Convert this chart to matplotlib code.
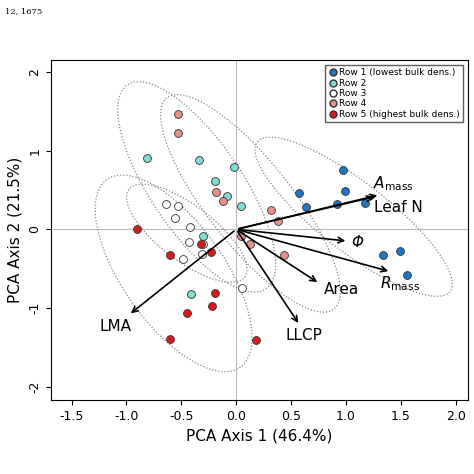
import matplotlib
matplotlib.use("Agg")
import matplotlib.pyplot as plt
from matplotlib.patches import Ellipse
from matplotlib.lines import Line2D

row1_x=[0.97,0.99,0.57,0.64,0.92,1.17,1.34,1.49,1.56]
row1_y=[0.75,0.49,0.46,0.29,0.32,0.33,-0.32,-0.28,-0.58]
row2_x=[-0.81,-0.34,-0.02,-0.19,-0.08,0.04,-0.30,-0.41]
row2_y=[0.91,0.88,0.79,0.61,0.43,0.30,-0.09,-0.82]
row3_x=[-0.64,-0.53,-0.56,-0.42,-0.43,-0.48,-0.30,-0.31,0.05]
row3_y=[0.32,0.30,0.14,0.03,-0.16,-0.38,-0.19,-0.31,-0.74]
row4_x=[-0.53,-0.53,-0.18,-0.12,0.32,0.38,0.04,0.13,0.44]
row4_y=[1.46,1.23,0.47,0.36,0.24,0.10,-0.08,-0.19,-0.33]
row5_x=[-0.90,-0.32,-0.23,-0.60,-0.19,-0.22,-0.45,-0.60,0.18]
row5_y=[0.01,-0.19,-0.29,-0.33,-0.81,-0.97,-1.06,-1.39,-1.41]
labels=["Row 1 (lowest bulk dens.)","Row 2","Row 3","Row 4","Row 5 (highest bulk dens.)"]
colors=["#1f74c4","#7fdcd2","#ffffff","#e8918c","#d81a1c"]

vec_names=["A","Leaf N","\u03a6","R","Area","LLCP","LMA"]
vec_x=[1.31,1.28,1.02,1.41,0.76,0.58,-0.98]
vec_y=[0.44,0.42,-0.15,-0.54,-0.69,-1.22,-1.09]
lab_x=[1.43,1.48,1.10,1.49,0.96,0.62,-1.10]
lab_y=[0.58,0.28,-0.17,-0.69,-0.76,-1.35,-1.24]

# ellipses: center x, center y, major, minor, angle
ell_cx=[1.07,-0.36,-0.45,0.13,-0.57]
ell_cy=[0.16,0.54,-0.05,0.33,-0.56]
ell_w=[2.6,2.9,1.55,3.1,2.7]
ell_h=[0.75,0.9,0.6,0.85,1.0]
ell_a=[-49,-66,-50,-62,-66]

fig=plt.figure(figsize=(4.74,4.74),dpi=100)
ax=fig.add_axes([0.108,0.156,0.879,0.717])
ax.set_xlim(-1.685,2.11); ax.set_ylim(-2.17,2.15)
ax.axhline(0,color="#bbbbbb",lw=0.8,zorder=0)
ax.axvline(0,color="#bbbbbb",lw=0.8,zorder=0)
for cx,cy,w,h,a in zip(ell_cx,ell_cy,ell_w,ell_h,ell_a):
    ax.add_patch(Ellipse((cx,cy),w,h,angle=a,fill=False,ls=(0,(1,1.5)),ec="#888888",lw=0.9,zorder=1))
for xs,ys,c in zip([row1_x,row2_x,row3_x,row4_x,row5_x],[row1_y,row2_y,row3_y,row4_y,row5_y],colors):
    ax.scatter(xs,ys,s=32,c=c,edgecolors="#333333",linewidths=0.6,zorder=3)
for vx,vy in zip(vec_x,vec_y):
    ax.annotate("",xy=(vx,vy),xytext=(0,0),arrowprops=dict(arrowstyle="->",color="black",lw=1.2),zorder=4)
for n,lx,ly in zip(vec_names,lab_x,lab_y):
    if n=="A":
        ax.text(lx,ly,r"$\it{A}_{\rm mass}$",fontsize=11,ha="center",va="center")
    elif n=="R":
        ax.text(lx,ly,r"$\it{R}_{\rm mass}$",fontsize=11,ha="center",va="center")
    elif n=="\u03a6":
        ax.text(lx,ly,n,fontsize=11,style="italic",ha="center",va="center")
    else:
        ax.text(lx,ly,n,fontsize=11,ha="center",va="center")
ax.set_xticks([-1.5,-1.0,-0.5,0.0,0.5,1.0,1.5,2.0])
ax.set_xticklabels(["-1.5","-1.0","-0.5","0.0","0.5","1.0","1.5","2.0"])
ax.set_yticks([-2,-1,0,1,2])
ax.set_yticklabels(["-2","-1","0","1","2"],rotation=90,va="center")
ax.tick_params(labelsize=9)
ax.set_xlabel("PCA Axis 1 (46.4%)",fontsize=11)
ax.set_ylabel("PCA Axis 2 (21.5%)",fontsize=11)
handles=[Line2D([],[],marker="o",ls="",markerfacecolor=c,markeredgecolor="#333333",markersize=5) for c in colors]
leg=ax.legend(handles,labels,loc="upper right",fontsize=6.5,handletextpad=0.2,borderpad=0.4,labelspacing=0.15,fancybox=False,edgecolor="#333333",handlelength=1)
fig.text(0.01,0.985,"12, 1675",fontsize=6,va="top",family="serif")
fig.savefig("out.png",dpi=100)
